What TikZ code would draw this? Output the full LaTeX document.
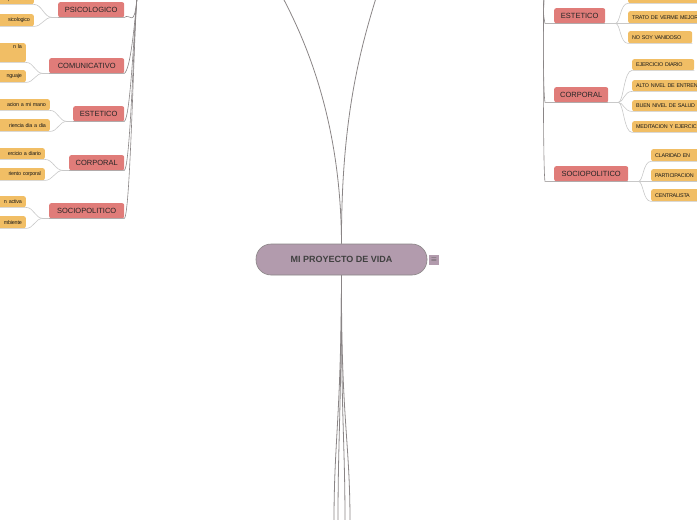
\documentclass[tikz,border=0pt]{standalone}
\usepackage{fontspec}
\setmainfont{Liberation Sans}
\begin{document}
\begin{tikzpicture}[x=1pt,y=-1pt,
  redn/.style={draw=none,fill=nred,rounded corners=2pt,inner sep=0pt,font=\fontsize{7.5}{8}\selectfont,text=black!85,anchor=north west,minimum height=15},
  leaf/.style={fill=nleaf,rounded corners=2pt,inner xsep=4pt,inner ysep=1.5pt,font=\fontsize{5.4}{6.5}\selectfont\addfontfeature{LetterSpace=-4},text=black!90,anchor=north west,align=left,text width=#1-8pt},
  leafl/.style={leaf=#1,align=right,anchor=north east},
  trunk/.style={draw=tgray,line width=0.8pt},
  br/.style={draw=lgray,line width=0.6pt}]
\definecolor{nred}{HTML}{E07C79}
\definecolor{nleaf}{HTML}{F1BE65}
\definecolor{ncen}{HTML}{B29BAD}
\definecolor{tgray}{HTML}{8A8586}
\definecolor{lgray}{HTML}{C8C8C8}
\useasboundingbox (0,0) rectangle (697,520);
\clip (0,0) rectangle (697,520);
% center
\node[fill=ncen,draw=tgray,line width=0.6pt,rounded corners=15pt,minimum width=171,minimum height=31,font=\fontsize{9}{10}\selectfont\bfseries,text=black!75] (c) at (341.5,259.5) {MI PROYECTO DE VIDA};
\node[fill=ncen,minimum width=10,minimum height=10,inner sep=0pt,font=\fontsize{7}{7}\selectfont,text=black!70] (ic) at (434,260) {$\equiv$};
\coordinate (tl) at (283,-2);
\coordinate (tr) at (376,-2);
\draw[trunk] (c.north) .. controls (341,120) and (305,40) .. (tl);
\draw[trunk] (c.north) .. controls (341,120) and (360,50) .. (tr);
\foreach \x in {334,338,345,350}{\coordinate (b\x) at (\x,522); \draw[trunk] (c.south) .. controls (341,420) and (\x,440) .. (b\x);}
% left red nodes
\node[redn,minimum width=66] (lp) at (58,2) {PSICOLOGICO};
\node[redn,minimum width=75] (lc) at (49,58) {COMUNICATIVO};
\node[redn,minimum width=51] (le) at (73,106) {ESTETICO};
\node[redn,minimum width=55] (lo) at (69,155) {CORPORAL};
\node[redn,minimum width=75] (ls) at (49,203) {SOCIOPOLITICO};
\coordinate (tlb) at (137,-2);
\foreach \n/\d in {lp/1,lc/2,le/3,lo/4,ls/5}{
  \draw[trunk,line width=0.6pt] (\n.south west) -- (\n.south east) .. controls ++(6,-5) and (134,30) .. (tlb);}
% left leaves
\node[leafl=70,minimum height=10] (a1) at (34,-6) {plemental};
\node[leafl=70,minimum height=12] (a2) at (34,14) {sicologico};
\node[leafl=70,minimum height=19] (b1) at (26,43) {n la\\[5pt]\,};
\node[leafl=70,minimum height=12] (b2) at (26,70) {nguaje};
\node[leafl=80,minimum height=11] (e1) at (50,99) {acion a mi mano};
\node[leafl=80,minimum height=12] (e2) at (50,119) {riencia dia a dia};
\node[leafl=80,minimum height=11] (o1) at (45,148) {ercicio a diario};
\node[leafl=80,minimum height=12] (o2) at (45,168) {riento corporal};
\node[leafl=70,minimum height=11] (s1) at (26,196) {n activa};
\node[leafl=70,minimum height=12] (s2) at (26,216) {mbiente};
\foreach \p/\u/\v in {lp/a1/a2,lc/b1/b2,le/e1/e2,lo/o1/o2,ls/s1/s2}{
  \draw[br] (\p.south west) -- ++(-6,0) coordinate (j\p);
  \draw[br] (j\p) .. controls ++(-8,0) and ([xshift=8]\u.south east) .. (\u.south east) -- (\u.south west);
  \draw[br] (j\p) .. controls ++(-8,0) and ([xshift=8]\v.south east) .. (\v.south east) -- (\v.south west);}
% right red nodes
\node[redn,minimum width=51] (re) at (554,8) {ESTETICO};
\node[redn,minimum width=54] (ro) at (554,87) {CORPORAL};
\node[redn,minimum width=74] (rs) at (554,166) {SOCIOPOLITICO};
\coordinate (trb) at (544,-2);
\foreach \n in {re,ro,rs}{
  \draw[trunk,line width=0.6pt] (\n.south east) -- (\n.south west) -- ([xshift=-9]\n.south west) .. controls ++(-2,-10) and (543,10) .. (trb);}
% right leaves
\node[leaf=100,minimum height=10] (r1) at (628,-7) {\,};
\node[leaf=100,minimum height=12] (r2) at (628,11) {TRATO DE VERME MEJOR};
\node[leaf=64,minimum height=12] (r3) at (628,31) {NO SOY VANIDOSO};
\node[leaf=62,minimum height=11] (q1) at (632,59) {EJERCICIO DIARIO};
\node[leaf=100,minimum height=11] (q2) at (632,80) {ALTO NIVEL DE ENTRENAMIENTO};
\node[leaf=100,minimum height=11] (q3) at (632,100) {BUEN NIVEL DE SALUD};
\node[leaf=100,minimum height=11] (q4) at (632,121) {MEDITACION Y EJERCICIO};
\node[leaf=80,minimum height=12] (w1) at (651,149) {CLARIDAD EN};
\node[leaf=80,minimum height=12] (w2) at (651,169) {PARTICIPACION};
\node[leaf=80,minimum height=12] (w3) at (651,189) {CENTRALISTA};
\foreach \p/\l in {re/r1,re/r2,re/r3,ro/q1,ro/q2,ro/q3,ro/q4,rs/w1,rs/w2,rs/w3}{
  \draw[br] (\p.south east) -- ++(10,0) .. controls ++(5,0) and ([xshift=-8]\l.south west) .. (\l.south west) -- (\l.south east);}
\end{tikzpicture}
\end{document}
